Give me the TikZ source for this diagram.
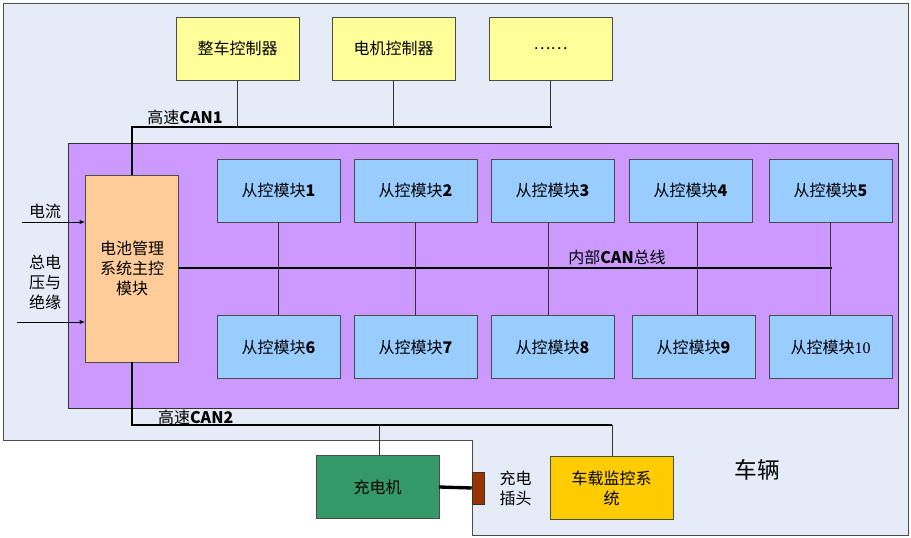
\documentclass[tikz,border=0pt]{standalone}
\usepackage{fontspec}
\setmainfont{Liberation Serif}
\newfontfamily\cjk{Noto Sans CJK SC}
\usepackage{tikz}
\usetikzlibrary{positioning}
\definecolor{vehbg}{RGB}{230,236,247}
\definecolor{packbg}{RGB}{204,153,255}
\definecolor{mastfill}{RGB}{255,204,153}
\definecolor{ecufill}{RGB}{255,255,153}
\definecolor{slavefill}{RGB}{153,204,255}
\definecolor{chgfill}{RGB}{51,153,102}
\definecolor{plugfill}{RGB}{153,51,0}
\definecolor{monfill}{RGB}{255,204,0}

\begin{document}
\begin{tikzpicture}[
    x=0.75pt, y=-0.75pt,
    box/.style={draw=black!70, minimum width=92pt, minimum height=47pt, font=\fontsize{12}{15}\selectfont\cjk, align=center},
    ecu/.style={box, fill=ecufill},
    slave/.style={box, fill=slavefill},
    bus/.style={line width=1.5pt},
    tap/.style={draw=black!80, line width=0.6pt},
    lbl/.style={font=\fontsize{12}{15}\selectfont\cjk, align=center}
]
    \useasboundingbox (0,0) rectangle (911,538);
    % Vehicle and battery pack areas
    \draw[fill=vehbg, draw=black!70] (3,3) -- (908,3) -- (908,535) -- (472,535) -- (472,440) -- (3,440) -- cycle;
    \draw[fill=packbg, draw=black!80] (68,143) rectangle (898,408);

    % Nodes
    \node[ecu] (vcu) at (237.5,48.5) {整车控制器};
    \node[ecu] (mcu) at (393.5,48.5) {电机控制器};
    \node[ecu] (etc) at (550.5,48.5) {……};
    \node[box, fill=mastfill, minimum width=70pt, minimum height=140pt] (bms) at (132,268.5) {电池管理\\系统主控\\模块};
    \node[slave] (s1) at (278.5,190.5) {从控模块\textbf{1}};
    \node[slave] (s2) at (415.5,190.5) {从控模块\textbf{2}};
    \node[slave] (s3) at (552.5,190.5) {从控模块\textbf{3}};
    \node[slave] (s4) at (690.5,190.5) {从控模块\textbf{4}};
    \node[slave] (s5) at (830.5,190.5) {从控模块\textbf{5}};
    \node[slave] (s6) at (278.5,347) {从控模块\textbf{6}};
    \node[slave] (s7) at (415.5,347) {从控模块\textbf{7}};
    \node[slave] (s8) at (552.5,347) {从控模块\textbf{8}};
    \node[slave] (s9) at (693.5,347) {从控模块\textbf{9}};
    \node[slave] (s10) at (830.5,347) {从控模块{\rmfamily 10}};
    \node[box, fill=chgfill] (chg) at (377.5,487) {充电机};
    \node[draw=black!80, fill=plugfill, minimum width=9pt, minimum height=24pt, inner sep=0pt] (plug) at (478,488) {};
    \node[box, fill=monfill] (mon) at (611.5,488) {车载监控系\\统};

    % High-speed CAN1
    \coordinate (c1l) at (132,127);
    \coordinate (c1r) at (552,127);
    \draw[bus] (bms.north) -- (c1l) -- (c1r);
    \foreach \n in {vcu,mcu,etc} \draw[tap] (\n.south) -- (\n.south |- c1l);
    \node[lbl, above right=-2pt and 8pt of c1l] {高速\textbf{CAN1}};

    % Internal CAN bus
    \coordinate (ibr) at (832,268);
    \coordinate (x3) at (548,0);
    \coordinate (x4) at (697,0);
    \draw[bus] (bms.east |- ibr) -- (ibr);
    \draw[tap] (s1) -- (s6);
    \draw[tap] (s2) -- (s7);
    \draw[tap] (s3.south -| x3) -- (s8.north -| x3);
    \draw[tap] (s4.south -| x4) -- (s9.north -| x4);
    \draw[tap] (s5) -- (s10);
    \node[lbl] at (617,257) {内部\textbf{CAN}总线};

    % High-speed CAN2
    \coordinate (c2l) at (132,425);
    \coordinate (c2r) at (612,425);
    \coordinate (xc) at (379,0);
    \draw[bus] (bms.south) -- (c2l) -- (c2r);
    \draw[tap] (c2l -| xc) -- (chg.north -| xc);
    \draw[tap] (c2r) -- (mon.north -| c2r);
    \node[lbl, above right=-3pt and 16pt of c2l] {高速\textbf{CAN2}};

    % Charging connection
    \draw[line width=2.5pt] (chg.east) -- (plug.west);
    \node[lbl, right=8pt of plug] {充电\\插头};

    % Inputs to master
    \coordinate (iin) at (22,222);
    \coordinate (uin) at (17,322);
    \draw[-latex] (iin) -- (bms.west |- iin);
    \draw[-latex] (uin) -- (bms.west |- uin);
    \node[lbl] at (45,211) {电流};
    \node[lbl] at (45,282) {总电\\压与\\绝缘};

    \node[lbl, font=\fontsize{17}{20}\selectfont\cjk] at (757,470) {车辆};
\end{tikzpicture}
\end{document}
